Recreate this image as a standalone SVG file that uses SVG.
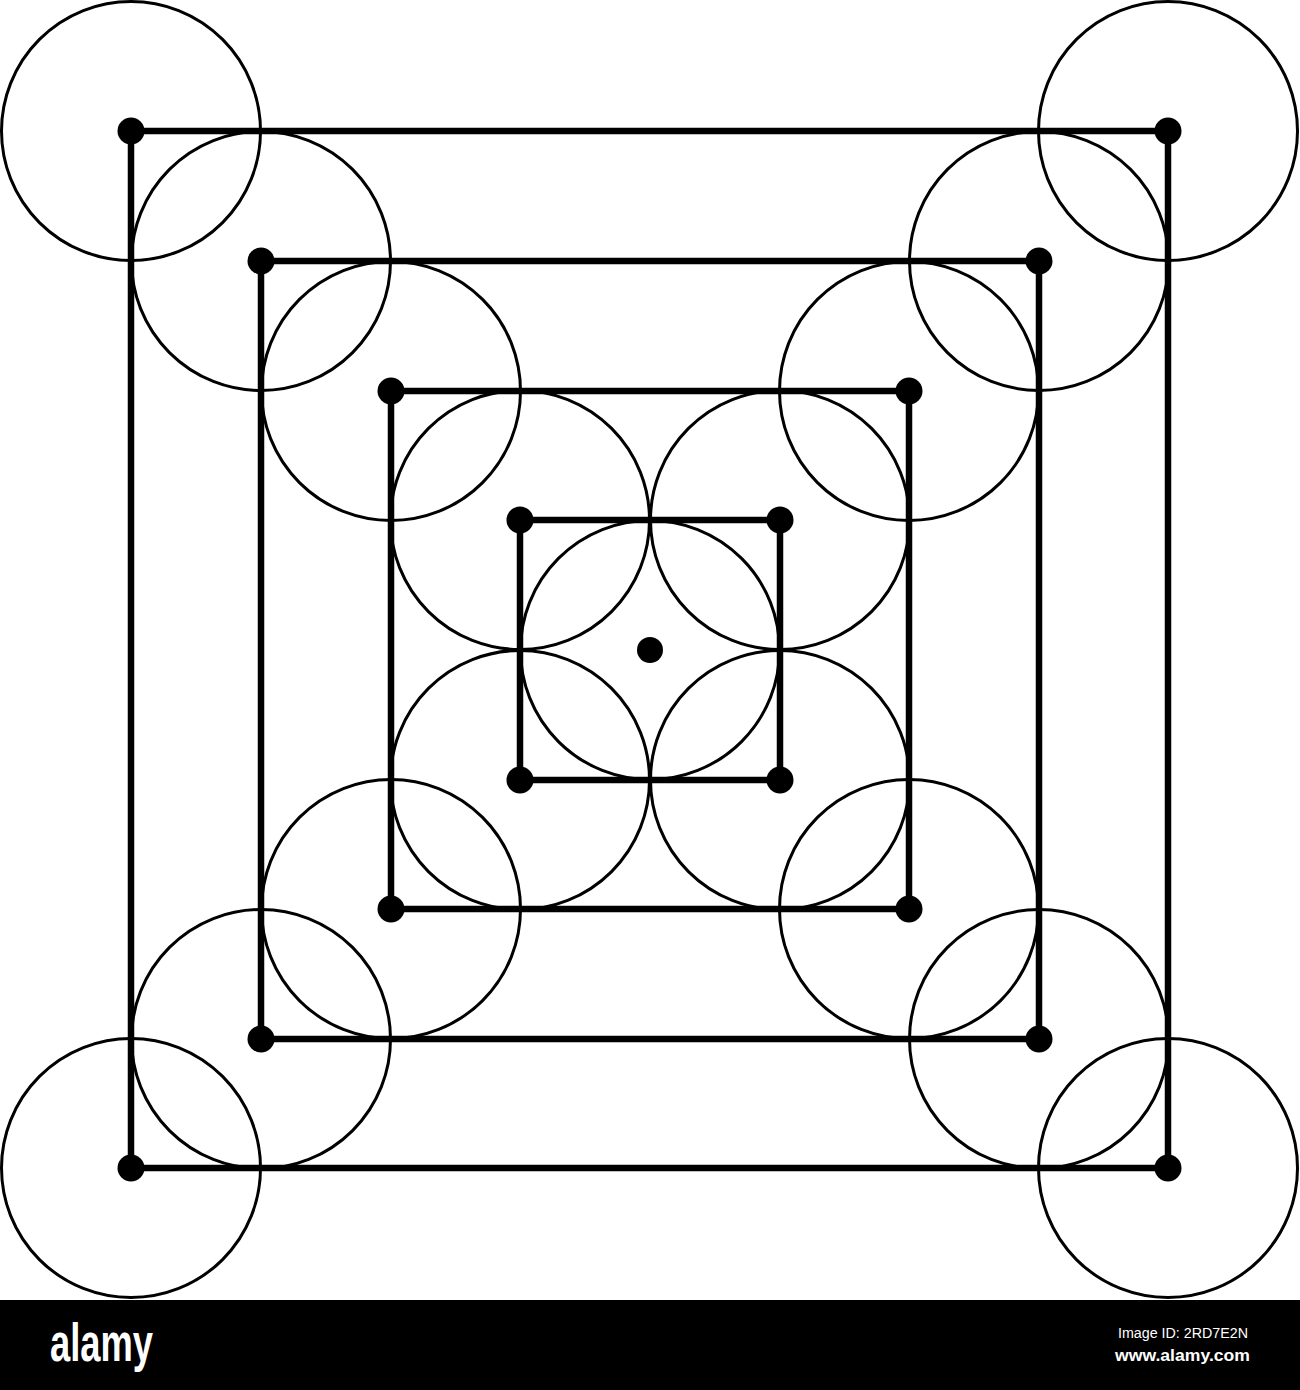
<svg xmlns="http://www.w3.org/2000/svg" width="1300" height="1390" viewBox="0 0 1300 1390">
<style>
.sq{fill:none;stroke:#000;stroke-width:6.5}
.ci{fill:none;stroke:#000;stroke-width:3}
.dot{fill:#000}
.wm{fill:#fff;font-family:"Liberation Sans","DejaVu Sans",sans-serif}
</style>
<rect x="0" y="0" width="1300" height="1390" fill="#fff"/>
<g id="squares">
<rect class="sq" x="131" y="131" width="1037" height="1037"/>
<rect class="sq" x="261" y="261" width="778" height="778"/>
<rect class="sq" x="391" y="391" width="518" height="518"/>
<rect class="sq" x="520" y="520" width="260" height="260"/>
</g>
<g id="circles">
<circle class="ci" cx="131" cy="131" r="129.5"/>
<circle class="ci" cx="261" cy="261" r="129.5"/>
<circle class="ci" cx="391" cy="391" r="129.5"/>
<circle class="ci" cx="520" cy="520" r="129.5"/>
<circle class="ci" cx="650" cy="650" r="129.5"/>
<circle class="ci" cx="780" cy="780" r="129.5"/>
<circle class="ci" cx="909" cy="909" r="129.5"/>
<circle class="ci" cx="1039" cy="1039" r="129.5"/>
<circle class="ci" cx="1168" cy="1168" r="129.5"/>
<circle class="ci" cx="1168" cy="131" r="129.5"/>
<circle class="ci" cx="1039" cy="261" r="129.5"/>
<circle class="ci" cx="909" cy="391" r="129.5"/>
<circle class="ci" cx="780" cy="520" r="129.5"/>
<circle class="ci" cx="520" cy="780" r="129.5"/>
<circle class="ci" cx="391" cy="909" r="129.5"/>
<circle class="ci" cx="261" cy="1039" r="129.5"/>
<circle class="ci" cx="131" cy="1168" r="129.5"/>
</g>
<g id="dots">
<circle class="dot" cx="131" cy="131" r="13.5"/>
<circle class="dot" cx="1168" cy="131" r="13.5"/>
<circle class="dot" cx="131" cy="1168" r="13.5"/>
<circle class="dot" cx="1168" cy="1168" r="13.5"/>
<circle class="dot" cx="261" cy="261" r="13.5"/>
<circle class="dot" cx="1039" cy="261" r="13.5"/>
<circle class="dot" cx="261" cy="1039" r="13.5"/>
<circle class="dot" cx="1039" cy="1039" r="13.5"/>
<circle class="dot" cx="391" cy="391" r="13.5"/>
<circle class="dot" cx="909" cy="391" r="13.5"/>
<circle class="dot" cx="391" cy="909" r="13.5"/>
<circle class="dot" cx="909" cy="909" r="13.5"/>
<circle class="dot" cx="520" cy="520" r="13.5"/>
<circle class="dot" cx="780" cy="520" r="13.5"/>
<circle class="dot" cx="520" cy="780" r="13.5"/>
<circle class="dot" cx="780" cy="780" r="13.5"/>
<circle class="dot" cx="650" cy="650" r="13"/>
</g>
<g id="band">
<rect x="0" y="1300" width="1300" height="90" fill="#000"/>
<text class="wm" x="50" y="1361" font-size="54" font-weight="bold" textLength="103" lengthAdjust="spacingAndGlyphs">alamy</text>
<text class="wm" x="1248" y="1338" font-size="14" text-anchor="end" textLength="130" lengthAdjust="spacingAndGlyphs">Image ID: 2RD7E2N</text>
<text class="wm" x="1250" y="1361" font-size="16" font-weight="bold" text-anchor="end" textLength="135" lengthAdjust="spacingAndGlyphs">www.alamy.com</text>
</g>
</svg>
